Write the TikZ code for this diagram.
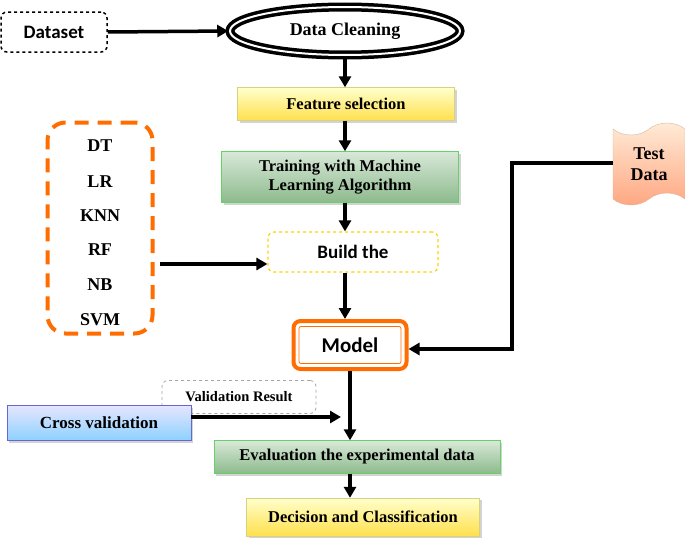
\documentclass[tikz,border=0pt]{standalone}
\usepackage{fontspec}
\setmainfont{Liberation Serif}
\newfontfamily\sansf{Carlito}
\usetikzlibrary{shapes.geometric,shapes.symbols,shadows,arrows.meta,positioning}
\begin{document}
\begin{tikzpicture}[x=1pt,y=-1pt,
 box/.style={draw=#1!70!black!60, drop shadow={opacity=0.35,shadow xshift=2pt,shadow yshift=-2pt}, font=\bfseries\fontsize{16.5}{19}\selectfont, align=center, inner sep=0pt},
 arr/.style={line width=3.5pt,-{Triangle[length=11pt,width=12pt]}},
 yel/.style={box=yellow,top color=yellow!20, bottom color=yellow!65!orange!70},
 grn/.style={box=green,top color=green!40!black!15, bottom color=green!40!black!45},
 blu/.style={box=blue,top color=blue!10, bottom color=blue!40!cyan!45},
]
\useasboundingbox (0,0) rectangle (685,538);
\node[draw,dashed,line width=1.5pt,rounded corners=6pt,minimum width=106pt,minimum height=40pt,font=\sansf\bfseries\fontsize{19}{22}\selectfont] (ds) at (54,32) {Dataset};
\node[ellipse,draw,double,double distance=2pt,line width=3.5pt,minimum width=230pt,minimum height=48pt,font=\bfseries\fontsize{18}{20}\selectfont] (dc) at (345,31) {Data Cleaning};
\node[yel,minimum width=217pt,minimum height=33pt] (fs) at (346,104) {Feature selection};
\node[grn,minimum width=237pt,minimum height=51pt] (tr) at (340,177) {Training with Machine\\Learning Algorithm};
\node[draw=yellow!70!orange,dashed,line width=1.2pt,rounded corners=6pt,minimum width=170pt,minimum height=40pt,font=\sansf\bfseries\fontsize{19}{22}\selectfont] (bt) at (353,252) {Build the};
\node[draw=orange!85!red,dashed,line width=4pt,dash pattern=on 14pt off 9pt,rounded corners=18pt,minimum width=105pt,minimum height=211pt] (alg) at (100,228) {};
\foreach \t/\yy in {DT/146,LR/182,KNN/216,RF/250,NB/285,SVM/320}
  \node[font=\bfseries\fontsize{18}{20}\selectfont] (a\t) at (100,\yy) {\t};
\node[tape,draw=orange!60!black!40,top color=orange!15,bottom color=orange!60!red!50,tape bend top=in and out,tape bend bottom=in and out,tape bend height=12pt,minimum width=72pt,minimum height=82pt,font=\bfseries\fontsize{18}{21}\selectfont,align=center] (td) at (649,164) {Test\\Data};
\node[draw=orange!85!red,line width=4pt,rounded corners=7pt,minimum width=113pt,minimum height=48pt] (mo) at (350,345) {};
\node[draw=orange!85!red,thick,rounded corners=2pt,minimum width=102pt,minimum height=37pt,font=\sansf\bfseries\fontsize{21}{24}\selectfont] (mi) at (350,345) {Model};
\node[draw=gray!70,dashed,thick,rounded corners=6pt,minimum width=154pt,minimum height=33pt,font=\bfseries\fontsize{14.5}{16}\selectfont,fill=white] (vr) at (239,397) {Validation Result};
\node[blu,minimum width=184pt,minimum height=35pt,font=\bfseries\fontsize{17}{19}\selectfont] (cv) at (99,423) {Cross validation};
\node[grn,minimum width=286pt,minimum height=33pt] (ev) at (357,457) {Evaluation the experimental data};
\node[yel,minimum width=233pt,minimum height=38pt] (dec) at (363,517) {Decision and Classification};
\coordinate (tdL) at (512,163); \coordinate (tdB) at (512,349);
\coordinate (cvE) at (341,417); \coordinate (lrE) at (160,264);
\coordinate (ax) at (345,0);
\draw[arr] (dc.south -| ax) -- (fs.north -| ax);
\draw[arr] (ds.east) -- (dc.west);
\draw[arr] (fs.south -| ax) -- (tr.north -| ax);
\draw[arr] (tr.south -| ax) -- (bt.north -| ax);
\draw[arr] (lrE) -- (bt.west |- lrE);
\draw[arr] (bt.south -| ax) -- (mo.north -| ax);
\draw[arr] (td.west |- tdL) -- (tdL) -- (tdB) -- (mo.east |- tdB);
\draw[arr] (mo.south) -- (mo.south |- ev.north);
\draw[arr] (cv.east |- cvE) -- (cvE);
\draw[arr] (ev.south -| mo.south) -- (dec.north -| mo.south);
\end{tikzpicture}
\end{document}
